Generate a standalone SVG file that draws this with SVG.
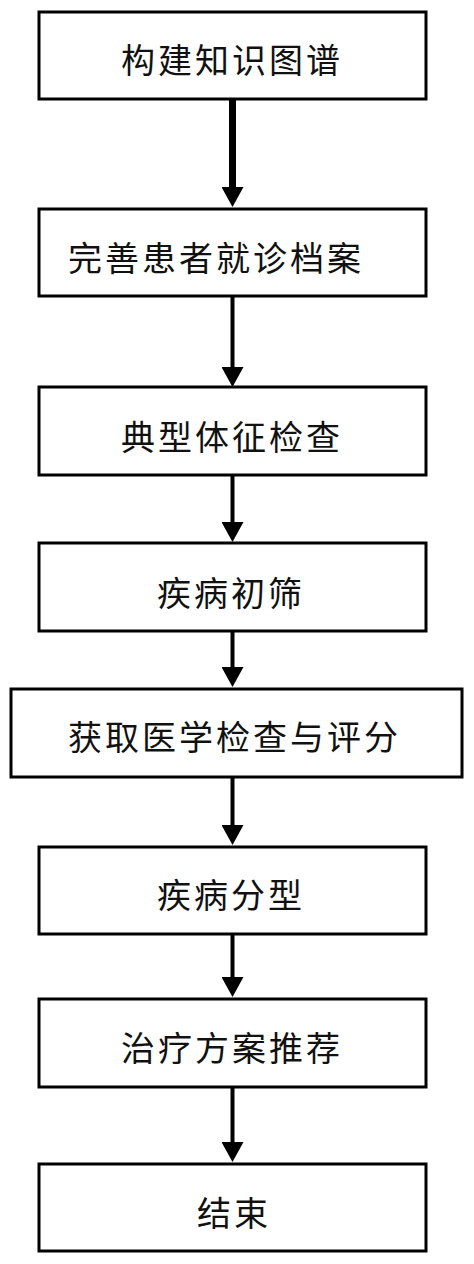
<svg xmlns="http://www.w3.org/2000/svg" width="474" height="1264" viewBox="0 0 474 1264">
<style>
.box{fill:#fff;stroke:#000;stroke-width:3}
.lbl{font-family:"Noto Sans CJK SC","Noto Sans CJK JP",sans-serif;font-size:34px;letter-spacing:3px;fill:#111}
.con{stroke:#000;stroke-width:4;fill:none;marker-end:url(#ah)}
</style>
<defs>
<marker id="ah" markerUnits="userSpaceOnUse" viewBox="0 0 20 22" refX="0" refY="11" markerWidth="20" markerHeight="22" orient="auto">
<path d="M0,0 L20,11 L0,22 Z" fill="#000"/>
</marker>
</defs>
<rect width="474" height="1264" fill="#fff"/>
<g id="connectors">
<path class="con" style="stroke-width:7" d="M232.5,99 V187"/>
<path class="con" d="M232.5,296 V367"/>
<path class="con" d="M232.5,475 V522"/>
<path class="con" d="M232.5,632 V667"/>
<path class="con" d="M232.5,777 V825"/>
<path class="con" d="M232.5,934 V977"/>
<path class="con" d="M232.5,1087 V1142"/>
</g>
<g id="n1"><rect class="box" x="39" y="12" width="387" height="87"/><text class="lbl" x="121" y="72.5">构建知识图谱</text></g>
<g id="n2"><rect class="box" x="39" y="209" width="387" height="87"/><text class="lbl" x="68" y="271">完善患者就诊档案</text></g>
<g id="n3"><rect class="box" x="39" y="387" width="387" height="88"/><text class="lbl" x="121" y="450">典型体征检查</text></g>
<g id="n4"><rect class="box" x="39" y="543" width="387" height="88"/><text class="lbl" x="157" y="606">疾病初筛</text></g>
<g id="n5"><rect class="box" x="11" y="689" width="451" height="88"/><text class="lbl" x="68" y="750">获取医学检查与评分</text></g>
<g id="n6"><rect class="box" x="39" y="847" width="387" height="87"/><text class="lbl" x="157" y="908">疾病分型</text></g>
<g id="n7"><rect class="box" x="39" y="999" width="387" height="88"/><text class="lbl" x="121" y="1061">治疗方案推荐</text></g>
<g id="n8"><rect class="box" x="39" y="1164" width="387" height="87"/><text class="lbl" x="197" y="1225.5">结束</text></g>
</svg>
